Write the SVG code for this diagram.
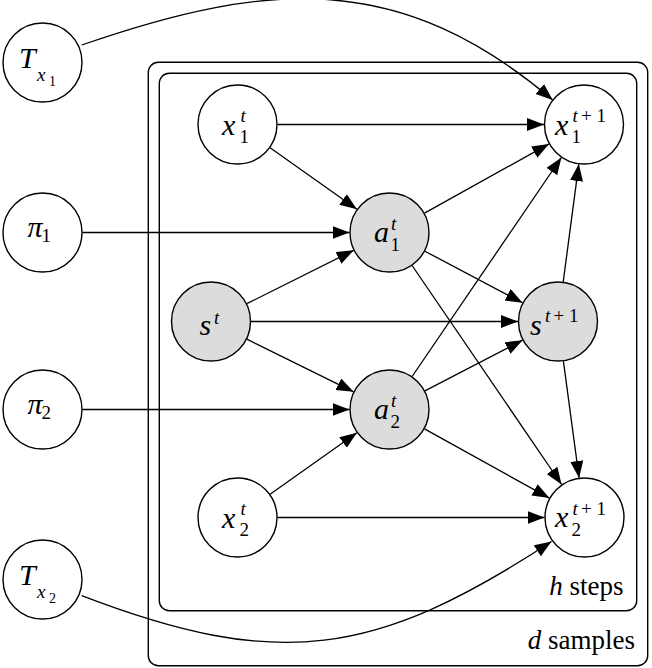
<svg xmlns="http://www.w3.org/2000/svg" width="652" height="668" viewBox="0 0 652 668">
<style>
.plate{fill:none;stroke:#000;stroke-width:1.4}
.n{fill:#fff;stroke:#000;stroke-width:1.4}
.g{fill:#dcdcdc;stroke:#000;stroke-width:1.4}
.e{fill:none;stroke:#000;stroke-width:1.3;marker-end:url(#ah)}
.t{font-family:"Liberation Serif",Tinos,"Times New Roman",Times,"DejaVu Serif",serif;fill:#000}
.m{font-size:30px;font-style:italic}
.si{font-size:19px;font-style:italic}
.su{font-size:19px;font-style:normal}
.ss{font-size:14px;font-style:normal}
.lab{font-size:27px}
</style>
<defs>
<marker id="ah" markerUnits="userSpaceOnUse" markerWidth="18" markerHeight="14" refX="17" refY="6.5" orient="auto">
<path d="M0,0 L17,6.5 L0,13 Z" fill="#000"/>
</marker>
</defs>
<g id="plates">
<rect id="plate-d" class="plate" x="148.3" y="62.3" width="499.4" height="603.4" rx="10"/>
<rect id="plate-h" class="plate" x="159.3" y="73.3" width="477.4" height="537.4" rx="10"/>
<text class="t lab" x="623.5" y="595" text-anchor="end"><tspan font-style="italic">h</tspan> steps</text>
<text class="t lab" x="635" y="648.5" text-anchor="end"><tspan font-style="italic">d</tspan> samples</text>
</g>
<g id="connectors">
<path class="e" d="M81.7,45 C269,-20 401,-29 552.7,100"/>
<path class="e" d="M81.7,595.7 C277.7,671 375.4,657 551.5,541.5"/>
<path class="e" d="M277.5,124.5 L544,124.5"/>
<path class="e" d="M82.5,232.5 L349.5,232.5"/>
<path class="e" d="M251,321.5 L518,321.5"/>
<path class="e" d="M82.5,409.5 L349.5,409.5"/>
<path class="e" d="M277.5,517.5 L544.5,517.5"/>
<path class="e" d="M270.1,147.7 L356.9,209.3"/>
<path class="e" d="M246.8,303.7 L353.7,250.3"/>
<path class="e" d="M246.9,339.2 L353.6,391.8"/>
<path class="e" d="M270.1,494.3 L356.9,432.7"/>
<path class="e" d="M424.5,213.1 L549,143.9"/>
<path class="e" d="M424.9,251.2 L522.6,302.8"/>
<path class="e" d="M412.1,265.5 L561.6,484.5"/>
<path class="e" d="M412.1,376.5 L561.4,157.5"/>
<path class="e" d="M424.9,390.8 L522.6,340.2"/>
<path class="e" d="M424.5,428.9 L549.4,498.1"/>
<path class="e" d="M563.2,281.9 L578.8,164.1"/>
<path class="e" d="M563.4,361.1 L579.1,477.9"/>
</g>
<g id="node-Tx1">
<circle class="n" cx="42.5" cy="62.5" r="39.5"/>
<text class="t"><tspan class="m" x="19" y="68">T</tspan><tspan class="si" x="37" y="80.5">x</tspan><tspan class="ss" x="49" y="85.5">1</tspan></text>
</g>
<g id="node-pi1">
<circle class="n" cx="42.5" cy="232.5" r="39.5"/>
<text class="t"><tspan class="m" x="27.5" y="236.5">π</tspan><tspan class="su" x="41.5" y="242">1</tspan></text>
</g>
<g id="node-pi2">
<circle class="n" cx="42.5" cy="409.5" r="39.5"/>
<text class="t"><tspan class="m" x="27.5" y="413.5">π</tspan><tspan class="su" x="41.5" y="419">2</tspan></text>
</g>
<g id="node-Tx2">
<circle class="n" cx="42.5" cy="579.5" r="39.5"/>
<text class="t"><tspan class="m" x="19" y="585">T</tspan><tspan class="si" x="37" y="598">x</tspan><tspan class="ss" x="49" y="603">2</tspan></text>
</g>
<g id="node-x1t">
<circle class="n" cx="237.5" cy="124.5" r="39.5"/>
<text class="t"><tspan class="m" x="222" y="134.5">x</tspan><tspan class="si" x="240.5" y="121.5">t</tspan><tspan class="su" x="239.5" y="142.5">1</tspan></text>
</g>
<g id="node-x2t">
<circle class="n" cx="237.5" cy="517.5" r="39.5"/>
<text class="t"><tspan class="m" x="222" y="527.5">x</tspan><tspan class="si" x="240.5" y="514.5">t</tspan><tspan class="su" x="239.5" y="535.5">2</tspan></text>
</g>
<g id="node-st">
<circle class="g" cx="211" cy="321.5" r="39.5"/>
<text class="t"><tspan class="m" x="199.5" y="335">s</tspan><tspan class="si" x="214" y="324">t</tspan></text>
</g>
<g id="node-a1">
<circle class="g" cx="389.5" cy="232.5" r="39.5"/>
<text class="t"><tspan class="m" x="374" y="241.5">a</tspan><tspan class="si" x="391" y="229.5">t</tspan><tspan class="su" x="390.5" y="250.5">1</tspan></text>
</g>
<g id="node-a2">
<circle class="g" cx="389.5" cy="409.5" r="39.5"/>
<text class="t"><tspan class="m" x="374" y="418.5">a</tspan><tspan class="si" x="391" y="406.5">t</tspan><tspan class="su" x="390.5" y="427.5">2</tspan></text>
</g>
<g id="node-x1n">
<circle class="n" cx="584" cy="124.5" r="39.5"/>
<text class="t"><tspan class="m" x="555" y="135">x</tspan><tspan class="si" x="572.5" y="121.5">t</tspan><tspan class="su" x="581" y="121.5">+</tspan><tspan class="su" x="596.5" y="121.5">1</tspan><tspan class="su" x="571.5" y="142.5">1</tspan></text>
</g>
<g id="node-sn">
<circle class="g" cx="558" cy="321.5" r="39.5"/>
<text class="t"><tspan class="m" x="530" y="334.5">s</tspan><tspan class="si" x="545" y="322">t</tspan><tspan class="su" x="553.5" y="322">+</tspan><tspan class="su" x="569" y="322">1</tspan></text>
</g>
<g id="node-x2n">
<circle class="n" cx="584.5" cy="517.5" r="39.5"/>
<text class="t"><tspan class="m" x="555" y="527">x</tspan><tspan class="si" x="572.5" y="514.5">t</tspan><tspan class="su" x="581" y="514.5">+</tspan><tspan class="su" x="596.5" y="514.5">1</tspan><tspan class="su" x="571.5" y="535.5">2</tspan></text>
</g>
</svg>
